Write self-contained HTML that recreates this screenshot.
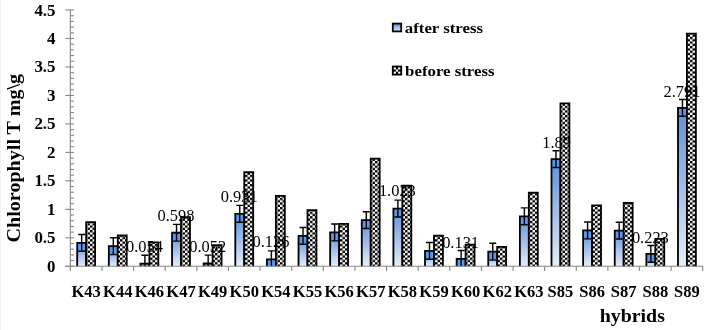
<!DOCTYPE html>
<html lang="en"><head><meta charset="utf-8"><title>Chlorophyll T chart</title>
<style>html,body{margin:0;padding:0;background:#fff;}body{width:708px;height:330px;overflow:hidden;}svg{display:block;}text{font-family:"Liberation Serif","Times New Roman",serif;fill:#000;}.b{font-weight:bold;}</style></head><body>
<svg width="708" height="330" viewBox="0 0 708 330">
<defs>
<linearGradient id="g" x1="0" y1="0" x2="0" y2="1"><stop offset="0" stop-color="#5b8fd8"/><stop offset="1" stop-color="#e6eefa"/></linearGradient>
<pattern id="ck" width="5" height="4.6" patternUnits="userSpaceOnUse"><rect width="5" height="4.6" fill="#fff"/><rect x="0" y="0" width="2.5" height="2.3" fill="#000"/><rect x="2.5" y="2.3" width="2.5" height="2.3" fill="#000"/></pattern>
</defs>
<rect width="708" height="330" fill="#fff"/>
<path d="M0.5 0V330" stroke="#f1f1f1" stroke-width="1" fill="none"/>
<g>
<rect x="77.20" y="242.88" width="8.95" height="23.42" fill="url(#g)"/>
<rect x="77.20" y="242.88" width="8.95" height="8.40" fill="#5a9aee"/>
<path d="M77.20 266.3V242.88H86.15V266.3" fill="none" stroke="#000" stroke-width="1.8"/>
<rect x="86.15" y="222.04" width="8.95" height="44.26" fill="url(#ck)"/>
<path d="M86.15 266.3V222.04H95.10V266.3" fill="none" stroke="#000" stroke-width="1.8"/>
<path d="M81.67 234.48V251.28M78.17 234.48H85.17M78.17 251.28H85.17" stroke="#000" stroke-width="1.4" fill="none"/>
</g>
<g>
<rect x="108.82" y="246.18" width="8.95" height="20.12" fill="url(#g)"/>
<rect x="108.82" y="246.18" width="8.95" height="8.40" fill="#5a9aee"/>
<path d="M108.82 266.3V246.18H117.77V266.3" fill="none" stroke="#000" stroke-width="1.8"/>
<rect x="117.77" y="235.48" width="8.95" height="30.82" fill="url(#ck)"/>
<path d="M117.77 266.3V235.48H126.72V266.3" fill="none" stroke="#000" stroke-width="1.8"/>
<path d="M113.29 237.78V254.58M109.79 237.78H116.79M109.79 254.58H116.79" stroke="#000" stroke-width="1.4" fill="none"/>
</g>
<g>
<rect x="140.44" y="263.72" width="8.95" height="2.58" fill="url(#g)"/>
<rect x="140.44" y="263.72" width="8.95" height="2.58" fill="#5a9aee"/>
<path d="M140.44 266.3V263.72H149.39V266.3" fill="none" stroke="#000" stroke-width="1.8"/>
<rect x="149.39" y="242.31" width="8.95" height="23.99" fill="url(#ck)"/>
<path d="M149.39 266.3V242.31H158.34V266.3" fill="none" stroke="#000" stroke-width="1.8"/>
<path d="M144.91 255.32V266.30M141.41 255.32H148.41" stroke="#000" stroke-width="1.4" fill="none"/>
</g>
<g>
<rect x="172.06" y="232.74" width="8.95" height="33.56" fill="url(#g)"/>
<rect x="172.06" y="232.74" width="8.95" height="8.40" fill="#5a9aee"/>
<path d="M172.06 266.3V232.74H181.01V266.3" fill="none" stroke="#000" stroke-width="1.8"/>
<rect x="181.01" y="217.25" width="8.95" height="49.05" fill="url(#ck)"/>
<path d="M181.01 266.3V217.25H189.96V266.3" fill="none" stroke="#000" stroke-width="1.8"/>
<path d="M176.53 224.34V241.14M173.03 224.34H180.03M173.03 241.14H180.03" stroke="#000" stroke-width="1.4" fill="none"/>
</g>
<g>
<rect x="203.68" y="263.50" width="8.95" height="2.80" fill="url(#g)"/>
<rect x="203.68" y="263.50" width="8.95" height="2.80" fill="#5a9aee"/>
<path d="M203.68 266.3V263.50H212.63V266.3" fill="none" stroke="#000" stroke-width="1.8"/>
<rect x="212.63" y="245.22" width="8.95" height="21.08" fill="url(#ck)"/>
<path d="M212.63 266.3V245.22H221.58V266.3" fill="none" stroke="#000" stroke-width="1.8"/>
<path d="M208.15 255.10V266.30M204.65 255.10H211.65" stroke="#000" stroke-width="1.4" fill="none"/>
</g>
<g>
<rect x="235.30" y="213.78" width="8.95" height="52.52" fill="url(#g)"/>
<rect x="235.30" y="213.78" width="8.95" height="8.40" fill="#5a9aee"/>
<path d="M235.30 266.3V213.78H244.25V266.3" fill="none" stroke="#000" stroke-width="1.8"/>
<rect x="244.25" y="172.26" width="8.95" height="94.04" fill="url(#ck)"/>
<path d="M244.25 266.3V172.26H253.20V266.3" fill="none" stroke="#000" stroke-width="1.8"/>
<path d="M239.77 205.38V222.18M236.27 205.38H243.27M236.27 222.18H243.27" stroke="#000" stroke-width="1.4" fill="none"/>
</g>
<g>
<rect x="266.92" y="259.28" width="8.95" height="7.02" fill="url(#g)"/>
<rect x="266.92" y="259.28" width="8.95" height="7.02" fill="#5a9aee"/>
<path d="M266.92 266.3V259.28H275.87V266.3" fill="none" stroke="#000" stroke-width="1.8"/>
<rect x="275.87" y="195.84" width="8.95" height="70.46" fill="url(#ck)"/>
<path d="M275.87 266.3V195.84H284.82V266.3" fill="none" stroke="#000" stroke-width="1.8"/>
<path d="M271.40 250.88V266.30M267.90 250.88H274.90" stroke="#000" stroke-width="1.4" fill="none"/>
</g>
<g>
<rect x="298.54" y="235.88" width="8.95" height="30.42" fill="url(#g)"/>
<rect x="298.54" y="235.88" width="8.95" height="8.40" fill="#5a9aee"/>
<path d="M298.54 266.3V235.88H307.49V266.3" fill="none" stroke="#000" stroke-width="1.8"/>
<rect x="307.49" y="210.19" width="8.95" height="56.11" fill="url(#ck)"/>
<path d="M307.49 266.3V210.19H316.44V266.3" fill="none" stroke="#000" stroke-width="1.8"/>
<path d="M303.02 227.48V244.28M299.52 227.48H306.52M299.52 244.28H306.52" stroke="#000" stroke-width="1.4" fill="none"/>
</g>
<g>
<rect x="330.16" y="232.46" width="8.95" height="33.84" fill="url(#g)"/>
<rect x="330.16" y="232.46" width="8.95" height="8.40" fill="#5a9aee"/>
<path d="M330.16 266.3V232.46H339.11V266.3" fill="none" stroke="#000" stroke-width="1.8"/>
<rect x="339.11" y="223.97" width="8.95" height="42.33" fill="url(#ck)"/>
<path d="M339.11 266.3V223.97H348.06V266.3" fill="none" stroke="#000" stroke-width="1.8"/>
<path d="M334.64 224.06V240.86M331.14 224.06H338.14M331.14 240.86H338.14" stroke="#000" stroke-width="1.4" fill="none"/>
</g>
<g>
<rect x="361.78" y="220.10" width="8.95" height="46.20" fill="url(#g)"/>
<rect x="361.78" y="220.10" width="8.95" height="8.40" fill="#5a9aee"/>
<path d="M361.78 266.3V220.10H370.73V266.3" fill="none" stroke="#000" stroke-width="1.8"/>
<rect x="370.73" y="158.60" width="8.95" height="107.70" fill="url(#ck)"/>
<path d="M370.73 266.3V158.60H379.68V266.3" fill="none" stroke="#000" stroke-width="1.8"/>
<path d="M366.25 211.70V228.50M362.75 211.70H369.75M362.75 228.50H369.75" stroke="#000" stroke-width="1.4" fill="none"/>
</g>
<g>
<rect x="393.40" y="208.54" width="8.95" height="57.76" fill="url(#g)"/>
<rect x="393.40" y="208.54" width="8.95" height="8.40" fill="#5a9aee"/>
<path d="M393.40 266.3V208.54H402.35V266.3" fill="none" stroke="#000" stroke-width="1.8"/>
<rect x="402.35" y="185.65" width="8.95" height="80.65" fill="url(#ck)"/>
<path d="M402.35 266.3V185.65H411.30V266.3" fill="none" stroke="#000" stroke-width="1.8"/>
<path d="M397.88 200.14V216.94M394.38 200.14H401.38M394.38 216.94H401.38" stroke="#000" stroke-width="1.4" fill="none"/>
</g>
<g>
<rect x="425.02" y="250.91" width="8.95" height="15.39" fill="url(#g)"/>
<rect x="425.02" y="250.91" width="8.95" height="8.40" fill="#5a9aee"/>
<path d="M425.02 266.3V250.91H433.97V266.3" fill="none" stroke="#000" stroke-width="1.8"/>
<rect x="433.97" y="235.65" width="8.95" height="30.65" fill="url(#ck)"/>
<path d="M433.97 266.3V235.65H442.92V266.3" fill="none" stroke="#000" stroke-width="1.8"/>
<path d="M429.50 242.51V259.31M426.00 242.51H433.00M426.00 259.31H433.00" stroke="#000" stroke-width="1.4" fill="none"/>
</g>
<g>
<rect x="456.64" y="258.94" width="8.95" height="7.36" fill="url(#g)"/>
<rect x="456.64" y="258.94" width="8.95" height="7.36" fill="#5a9aee"/>
<path d="M456.64 266.3V258.94H465.59V266.3" fill="none" stroke="#000" stroke-width="1.8"/>
<rect x="465.59" y="244.70" width="8.95" height="21.60" fill="url(#ck)"/>
<path d="M465.59 266.3V244.70H474.54V266.3" fill="none" stroke="#000" stroke-width="1.8"/>
<path d="M461.12 250.54V266.30M457.62 250.54H464.62" stroke="#000" stroke-width="1.4" fill="none"/>
</g>
<g>
<rect x="488.26" y="251.71" width="8.95" height="14.59" fill="url(#g)"/>
<rect x="488.26" y="251.71" width="8.95" height="8.40" fill="#5a9aee"/>
<path d="M488.26 266.3V251.71H497.21V266.3" fill="none" stroke="#000" stroke-width="1.8"/>
<rect x="497.21" y="246.92" width="8.95" height="19.38" fill="url(#ck)"/>
<path d="M497.21 266.3V246.92H506.16V266.3" fill="none" stroke="#000" stroke-width="1.8"/>
<path d="M492.74 243.31V260.11M489.24 243.31H496.24M489.24 260.11H496.24" stroke="#000" stroke-width="1.4" fill="none"/>
</g>
<g>
<rect x="519.88" y="216.29" width="8.95" height="50.01" fill="url(#g)"/>
<rect x="519.88" y="216.29" width="8.95" height="8.40" fill="#5a9aee"/>
<path d="M519.88 266.3V216.29H528.83V266.3" fill="none" stroke="#000" stroke-width="1.8"/>
<rect x="528.83" y="192.76" width="8.95" height="73.54" fill="url(#ck)"/>
<path d="M528.83 266.3V192.76H537.78V266.3" fill="none" stroke="#000" stroke-width="1.8"/>
<path d="M524.36 207.89V224.69M520.86 207.89H527.86M520.86 224.69H527.86" stroke="#000" stroke-width="1.4" fill="none"/>
</g>
<g>
<rect x="551.50" y="159.16" width="8.95" height="107.14" fill="url(#g)"/>
<rect x="551.50" y="159.16" width="8.95" height="8.40" fill="#5a9aee"/>
<path d="M551.50 266.3V159.16H560.45V266.3" fill="none" stroke="#000" stroke-width="1.8"/>
<rect x="560.45" y="103.47" width="8.95" height="162.83" fill="url(#ck)"/>
<path d="M560.45 266.3V103.47H569.40V266.3" fill="none" stroke="#000" stroke-width="1.8"/>
<path d="M555.98 150.76V167.56M552.48 150.76H559.48M552.48 167.56H559.48" stroke="#000" stroke-width="1.4" fill="none"/>
</g>
<g>
<rect x="583.12" y="230.47" width="8.95" height="35.83" fill="url(#g)"/>
<rect x="583.12" y="230.47" width="8.95" height="8.40" fill="#5a9aee"/>
<path d="M583.12 266.3V230.47H592.07V266.3" fill="none" stroke="#000" stroke-width="1.8"/>
<rect x="592.07" y="205.29" width="8.95" height="61.01" fill="url(#ck)"/>
<path d="M592.07 266.3V205.29H601.02V266.3" fill="none" stroke="#000" stroke-width="1.8"/>
<path d="M587.60 222.07V238.87M584.10 222.07H591.10M584.10 238.87H591.10" stroke="#000" stroke-width="1.4" fill="none"/>
</g>
<g>
<rect x="614.74" y="230.64" width="8.95" height="35.66" fill="url(#g)"/>
<rect x="614.74" y="230.64" width="8.95" height="8.40" fill="#5a9aee"/>
<path d="M614.74 266.3V230.64H623.69V266.3" fill="none" stroke="#000" stroke-width="1.8"/>
<rect x="623.69" y="203.02" width="8.95" height="63.28" fill="url(#ck)"/>
<path d="M623.69 266.3V203.02H632.64V266.3" fill="none" stroke="#000" stroke-width="1.8"/>
<path d="M619.22 222.24V239.04M615.72 222.24H622.72M615.72 239.04H622.72" stroke="#000" stroke-width="1.4" fill="none"/>
</g>
<g>
<rect x="646.36" y="253.87" width="8.95" height="12.43" fill="url(#g)"/>
<rect x="646.36" y="253.87" width="8.95" height="8.40" fill="#5a9aee"/>
<path d="M646.36 266.3V253.87H655.31V266.3" fill="none" stroke="#000" stroke-width="1.8"/>
<rect x="655.31" y="238.89" width="8.95" height="27.41" fill="url(#ck)"/>
<path d="M655.31 266.3V238.89H664.26V266.3" fill="none" stroke="#000" stroke-width="1.8"/>
<path d="M650.84 245.47V262.27M647.34 245.47H654.34M647.34 262.27H654.34" stroke="#000" stroke-width="1.4" fill="none"/>
</g>
<g>
<rect x="677.98" y="107.85" width="8.95" height="158.45" fill="url(#g)"/>
<rect x="677.98" y="107.85" width="8.95" height="8.40" fill="#5a9aee"/>
<path d="M677.98 266.3V107.85H686.93V266.3" fill="none" stroke="#000" stroke-width="1.8"/>
<rect x="686.93" y="33.70" width="8.95" height="232.60" fill="url(#ck)"/>
<path d="M686.93 266.3V33.70H695.88V266.3" fill="none" stroke="#000" stroke-width="1.8"/>
<path d="M682.46 99.45V116.25M678.96 99.45H685.96M678.96 116.25H685.96" stroke="#000" stroke-width="1.4" fill="none"/>
</g>
<g stroke="#868686" stroke-width="1.1" fill="none">
<line x1="70.35" y1="9.52" x2="70.35" y2="266.80"/>
<line x1="65.35" y1="266.3" x2="703.25" y2="266.3"/>
<line x1="65.35" y1="266.30" x2="73.95" y2="266.30"/>
<line x1="70.35" y1="260.61" x2="73.95" y2="260.61"/>
<line x1="70.35" y1="254.91" x2="73.95" y2="254.91"/>
<line x1="70.35" y1="249.22" x2="73.95" y2="249.22"/>
<line x1="70.35" y1="243.52" x2="73.95" y2="243.52"/>
<line x1="65.35" y1="237.83" x2="73.95" y2="237.83"/>
<line x1="70.35" y1="232.13" x2="73.95" y2="232.13"/>
<line x1="70.35" y1="226.44" x2="73.95" y2="226.44"/>
<line x1="70.35" y1="220.74" x2="73.95" y2="220.74"/>
<line x1="70.35" y1="215.05" x2="73.95" y2="215.05"/>
<line x1="65.35" y1="209.35" x2="73.95" y2="209.35"/>
<line x1="70.35" y1="203.66" x2="73.95" y2="203.66"/>
<line x1="70.35" y1="197.96" x2="73.95" y2="197.96"/>
<line x1="70.35" y1="192.26" x2="73.95" y2="192.26"/>
<line x1="70.35" y1="186.57" x2="73.95" y2="186.57"/>
<line x1="65.35" y1="180.88" x2="73.95" y2="180.88"/>
<line x1="70.35" y1="175.18" x2="73.95" y2="175.18"/>
<line x1="70.35" y1="169.49" x2="73.95" y2="169.49"/>
<line x1="70.35" y1="163.79" x2="73.95" y2="163.79"/>
<line x1="70.35" y1="158.09" x2="73.95" y2="158.09"/>
<line x1="65.35" y1="152.40" x2="73.95" y2="152.40"/>
<line x1="70.35" y1="146.70" x2="73.95" y2="146.70"/>
<line x1="70.35" y1="141.01" x2="73.95" y2="141.01"/>
<line x1="70.35" y1="135.31" x2="73.95" y2="135.31"/>
<line x1="70.35" y1="129.62" x2="73.95" y2="129.62"/>
<line x1="65.35" y1="123.93" x2="73.95" y2="123.93"/>
<line x1="70.35" y1="118.23" x2="73.95" y2="118.23"/>
<line x1="70.35" y1="112.53" x2="73.95" y2="112.53"/>
<line x1="70.35" y1="106.84" x2="73.95" y2="106.84"/>
<line x1="70.35" y1="101.14" x2="73.95" y2="101.14"/>
<line x1="65.35" y1="95.45" x2="73.95" y2="95.45"/>
<line x1="70.35" y1="89.75" x2="73.95" y2="89.75"/>
<line x1="70.35" y1="84.06" x2="73.95" y2="84.06"/>
<line x1="70.35" y1="78.36" x2="73.95" y2="78.36"/>
<line x1="70.35" y1="72.67" x2="73.95" y2="72.67"/>
<line x1="65.35" y1="66.97" x2="73.95" y2="66.97"/>
<line x1="70.35" y1="61.28" x2="73.95" y2="61.28"/>
<line x1="70.35" y1="55.58" x2="73.95" y2="55.58"/>
<line x1="70.35" y1="49.89" x2="73.95" y2="49.89"/>
<line x1="70.35" y1="44.19" x2="73.95" y2="44.19"/>
<line x1="65.35" y1="38.50" x2="73.95" y2="38.50"/>
<line x1="70.35" y1="32.80" x2="73.95" y2="32.80"/>
<line x1="70.35" y1="27.11" x2="73.95" y2="27.11"/>
<line x1="70.35" y1="21.42" x2="73.95" y2="21.42"/>
<line x1="70.35" y1="15.72" x2="73.95" y2="15.72"/>
<line x1="65.35" y1="10.02" x2="73.95" y2="10.02"/>
<line x1="70.35" y1="266.3" x2="70.35" y2="270.90"/>
<line x1="101.97" y1="266.3" x2="101.97" y2="270.90"/>
<line x1="133.59" y1="266.3" x2="133.59" y2="270.90"/>
<line x1="165.21" y1="266.3" x2="165.21" y2="270.90"/>
<line x1="196.83" y1="266.3" x2="196.83" y2="270.90"/>
<line x1="228.45" y1="266.3" x2="228.45" y2="270.90"/>
<line x1="260.07" y1="266.3" x2="260.07" y2="270.90"/>
<line x1="291.69" y1="266.3" x2="291.69" y2="270.90"/>
<line x1="323.31" y1="266.3" x2="323.31" y2="270.90"/>
<line x1="354.93" y1="266.3" x2="354.93" y2="270.90"/>
<line x1="386.55" y1="266.3" x2="386.55" y2="270.90"/>
<line x1="418.17" y1="266.3" x2="418.17" y2="270.90"/>
<line x1="449.79" y1="266.3" x2="449.79" y2="270.90"/>
<line x1="481.41" y1="266.3" x2="481.41" y2="270.90"/>
<line x1="513.03" y1="266.3" x2="513.03" y2="270.90"/>
<line x1="544.65" y1="266.3" x2="544.65" y2="270.90"/>
<line x1="576.27" y1="266.3" x2="576.27" y2="270.90"/>
<line x1="607.89" y1="266.3" x2="607.89" y2="270.90"/>
<line x1="639.51" y1="266.3" x2="639.51" y2="270.90"/>
<line x1="671.13" y1="266.3" x2="671.13" y2="270.90"/>
<line x1="702.75" y1="266.3" x2="702.75" y2="270.90"/>
</g>
<g class="b" font-size="16.9" text-anchor="end">
<text x="55.5" y="271.80">0</text>
<text x="55.5" y="243.33">0.5</text>
<text x="55.5" y="214.85">1</text>
<text x="55.5" y="186.38">1.5</text>
<text x="55.5" y="157.90">2</text>
<text x="55.5" y="129.43">2.5</text>
<text x="55.5" y="100.95">3</text>
<text x="55.5" y="72.47">3.5</text>
<text x="55.5" y="44.00">4</text>
<text x="55.5" y="15.52">4.5</text>
</g>
<g font-size="16.4" text-anchor="middle">
<text x="144.41" y="252">0.054</text>
<text x="176.03" y="221">0.598</text>
<text x="207.65" y="252">0.052</text>
<text x="239.27" y="202">0.931</text>
<text x="270.90" y="247">0.126</text>
<text x="397.38" y="196">1.023</text>
<text x="460.62" y="248">0.131</text>
<text x="556.58" y="148">1.89</text>
<text x="650.34" y="243">0.223</text>
<text x="681.96" y="97">2.791</text>
</g>
<g class="b" font-size="16.5" text-anchor="middle">
<text x="86.16" y="296.6">K43</text>
<text x="117.78" y="296.6">K44</text>
<text x="149.40" y="296.6">K46</text>
<text x="181.02" y="296.6">K47</text>
<text x="212.64" y="296.6">K49</text>
<text x="244.26" y="296.6">K50</text>
<text x="275.88" y="296.6">K54</text>
<text x="307.50" y="296.6">K55</text>
<text x="339.12" y="296.6">K56</text>
<text x="370.74" y="296.6">K57</text>
<text x="402.36" y="296.6">K58</text>
<text x="433.98" y="296.6">K59</text>
<text x="465.60" y="296.6">K60</text>
<text x="497.22" y="296.6">K62</text>
<text x="528.84" y="296.6">K63</text>
<text x="560.46" y="296.6">S85</text>
<text x="592.08" y="296.6">S86</text>
<text x="623.70" y="296.6">S87</text>
<text x="655.32" y="296.6">S88</text>
<text x="686.94" y="296.6">S89</text>
</g>
<text class="b" font-size="19" transform="translate(599.7 321.6) scale(1.047 1)">hybrids</text>
<text class="b" font-size="19.2" text-anchor="middle" transform="translate(20.1 158.2) rotate(-90) scale(1.047 1)">Chlorophyll T mg\g</text>
<rect x="392.8" y="23.6" width="8.4" height="7.8" fill="url(#g)" stroke="#000" stroke-width="1.8"/>
<text class="b" font-size="15.5" transform="translate(404.8 33) scale(1.085 1)">after stress</text>
<rect x="392.8" y="66.5" width="8.4" height="8.1" fill="#000" stroke="#000" stroke-width="1.8"/>
<rect x="393.70" y="67.40" width="2.2" height="2.1" fill="#fff"/>
<rect x="398.10" y="67.40" width="2.2" height="2.1" fill="#fff"/>
<rect x="395.90" y="69.50" width="2.2" height="2.1" fill="#fff"/>
<rect x="393.70" y="71.60" width="2.2" height="2.1" fill="#fff"/>
<rect x="398.10" y="71.60" width="2.2" height="2.1" fill="#fff"/>
<text class="b" font-size="15.5" transform="translate(405.1 76.4) scale(1.085 1)">before stress</text>
</svg></body></html>
